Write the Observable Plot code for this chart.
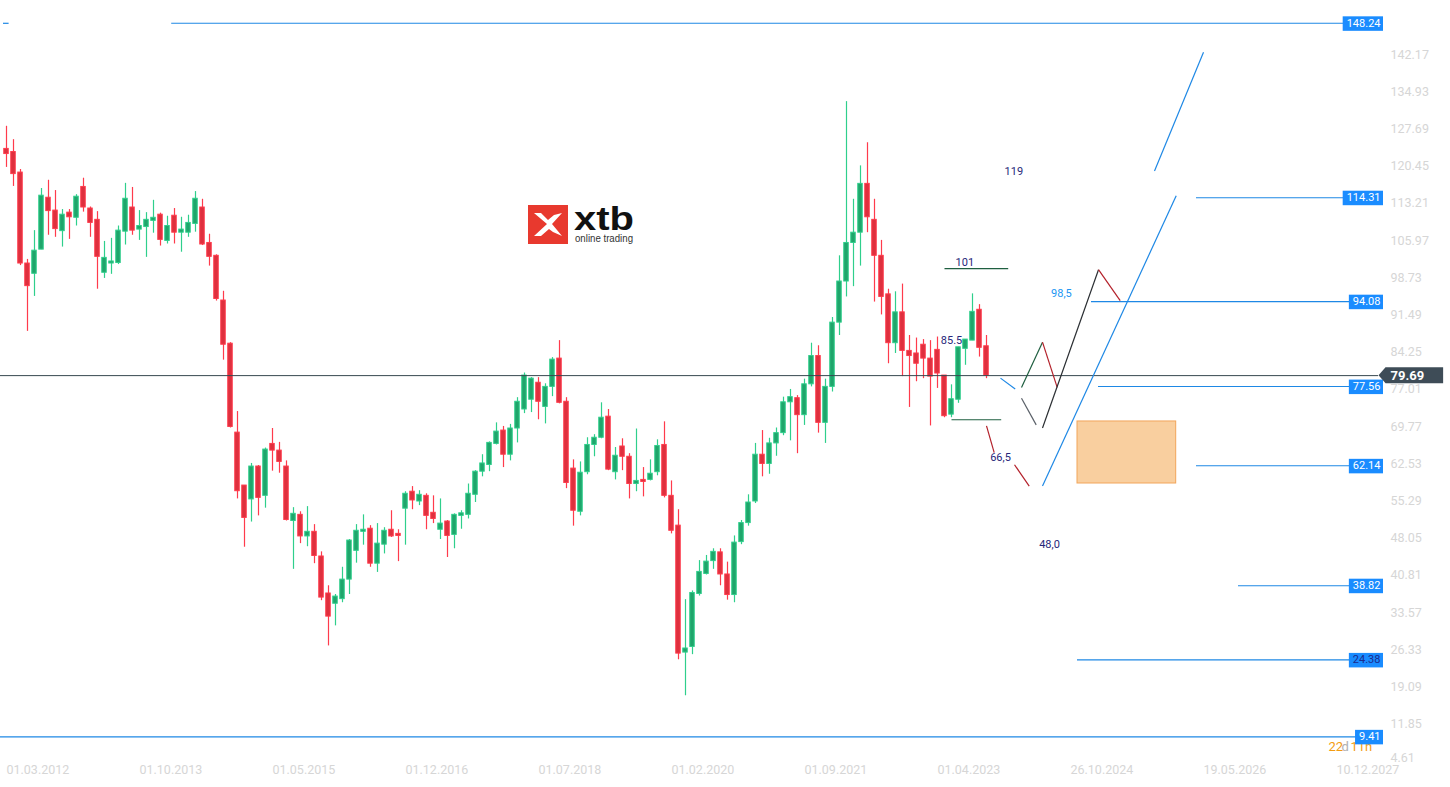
<!DOCTYPE html>
<html>
<head>
<meta charset="utf-8">
<script src="https://cdn.jsdelivr.net/npm/d3@7"></script>
<script src="https://cdn.jsdelivr.net/npm/@observablehq/plot@0.6"></script>
<style>
  html, body { margin: 0; padding: 0; background: #ffffff; }
  #wrap { position: relative; width: 1450px; height: 787px; overflow: hidden; }
  #logo { position: absolute; left: 0; top: 0; pointer-events: none; }
</style>
</head>
<body>
<div id="wrap">
  <div id="chart"></div>
  <svg id="logo" width="1450" height="787">
    <rect x="528" y="205" width="40" height="39" fill="#e8392e"></rect>
    <path d="M534,213 L547,224 L534,236 L541,236 L549,229 L553,232 L562,236 L557,230 L552,224 L562,213 L554,215 L548,220 L541,213 Z" fill="#ffffff"></path>
    <text x="574" y="230" font-family="Liberation Sans, Arial, sans-serif" font-weight="bold" font-size="33" textLength="60" lengthAdjust="spacingAndGlyphs" fill="#111">xtb</text>
    <text x="575" y="242" font-family="Liberation Sans, Arial, sans-serif" font-size="10" textLength="58" lengthAdjust="spacingAndGlyphs" fill="#333">online trading</text>
  </svg>
</div>
<script>
// ---- Monthly candles, Mar 2012 onward (month index 0 = 01.03.2012) ----
const candleOpen = [
 123.8,123.2,119.2,101.5,99.5,104.2,114.3,111.8,107.8,111.4,110.4,116.4,112.2,110.0,99.7,101.5,101.6,107.7,112.4,108.1,
 108.6,109.8,111.0,105.9,110.8,107.5,107.5,109.2,112.4,105.5,103.0,94.3,85.9,68.6,58.3,55.6,62.0,56.3,66.4,65.1,
 62.0,51.4,52.6,48.4,49.3,44.5,37.3,35.3,36.2,40.0,45.6,49.3,49.9,43.1,46.8,49.7,48.9,53.8,57.1,55.2,
 56.3,53.0,49.7,51.3,48.7,52.4,52.6,56.5,61.0,62.3,66.4,69.0,64.3,69.4,73.1,75.0,78.3,73.6,77.5,83.0,
 74.6,61.6,53.2,60.9,66.2,67.6,71.7,60.9,65.9,63.9,58.6,59.4,59.4,60.9,66.2,56.3,50.5,25.8,26.9,37.2,
 41.1,43.6,45.3,41.0,37.0,47.3,51.0,55.2,64.3,62.5,66.5,68.5,74.5,75.3,72.0,78.0,83.5,70.5,77.5,90.0,
 98.0,105.5,107.5,117.0,110.0,103.0,95.5,86.0,92.0,84.5,84.0,85.7,83.0,84.7,79.7,72.1,75.0,84.9,86.5,92.5,
 85.4
];
const candleHigh = [
 128.2,125.6,119.8,102.3,107.9,116.1,117.7,115.7,112.0,112.0,114.9,118.1,112.5,111.6,105.8,106.4,108.8,117.1,116.3,111.8,
 111.4,113.8,111.3,110.7,112.2,110.5,110.9,115.5,114.0,107.2,103.2,96.1,86.1,72.7,58.3,62.6,62.2,65.6,69.4,66.7,
 63.1,54.0,53.2,54.2,50.7,45.4,38.8,37.1,42.4,47.8,50.7,52.6,50.5,50.9,50.1,53.4,49.7,57.1,58.1,57.3,
 56.7,56.3,55.7,51.5,52.8,53.4,58.6,61.2,64.3,66.8,70.5,69.8,70.2,75.4,80.2,79.3,79.3,78.1,83.2,86.5,
 75.4,63.3,62.9,67.6,68.2,74.4,73.1,65.7,67.4,64.5,69.3,61.8,63.3,67.2,70.7,59.2,53.6,36.1,37.8,43.7,
 44.7,46.0,46.0,43.4,48.5,51.5,56.5,66.5,69.0,67.5,69.5,75.5,77.0,75.8,79.0,86.0,85.5,79.0,91.0,103.0,
 133.0,114.0,120.5,125.0,114.0,106.0,96.5,96.0,97.5,87.5,87.0,86.7,86.5,87.2,79.7,77.9,85.2,86.7,95.6,93.5,
 87.5
];
const candleLow = [
 120.2,116.5,101.1,88.3,95.1,104.2,107.0,106.6,104.7,106.2,108.8,111.5,106.6,96.5,98.6,99.4,101.3,105.1,107.0,106.0,
 102.7,107.4,104.9,105.3,105.3,103.7,106.6,107.6,105.0,101.0,94.2,82.7,69.5,55.7,46.3,51.2,52.4,53.9,61.1,60.7,
 51.4,42.0,47.0,46.4,43.1,35.9,27.1,31.0,35.5,37.1,43.2,46.7,42.4,41.4,45.0,48.2,43.5,46.7,53.6,54.4,
 49.7,50.9,47.8,44.3,46.0,49.8,51.8,55.0,60.0,61.0,66.2,61.8,63.1,66.6,72.3,72.5,71.1,70.3,75.6,74.2,
 57.7,50.4,52.4,60.4,63.9,67.4,61.2,59.4,61.2,55.7,57.1,56.1,59.2,60.2,55.9,48.9,24.4,17.4,25.4,36.8,
 40.9,42.0,38.8,36.0,35.5,46.8,50.4,54.8,60.0,60.5,64.0,68.0,67.0,64.5,70.0,77.5,68.5,66.5,76.5,87.5,
 95.0,97.0,101.0,107.5,94.0,91.5,82.0,84.0,79.5,73.5,78.5,79.1,69.9,77.2,71.5,71.5,74.3,81.7,86.5,83.3,
 79.1
];
const candleClose = [
 122.8,118.9,101.5,97.1,104.0,114.7,111.7,108.2,111.0,110.5,114.5,112.4,109.4,102.8,102.6,101.9,107.9,114.1,107.9,108.8,
 110.0,110.4,106.1,108.8,107.5,108.1,109.4,114.1,105.2,102.8,94.6,85.7,69.7,57.2,52.0,62.0,55.9,65.3,65.1,62.9,
 51.6,52.8,48.4,49.3,44.6,36.5,32.8,36.7,40.0,47.6,49.5,49.7,43.1,47.0,49.5,48.4,48.5,56.7,55.4,56.5,
 52.4,51.8,50.9,48.5,52.6,52.9,56.7,61.0,62.6,66.6,68.8,64.3,69.4,74.6,79.7,79.1,74.6,77.5,82.8,74.4,
 58.8,53.4,60.8,66.2,67.6,71.5,61.4,64.1,63.9,58.6,59.2,59.0,60.6,66.0,56.3,49.5,25.6,26.6,37.4,41.5,
 43.5,45.4,41.0,37.0,47.2,51.0,55.0,64.3,62.5,66.5,68.5,74.5,75.5,72.0,78.0,83.5,70.5,77.5,90.0,98.0,
 105.5,107.5,117.0,110.5,103.0,95.0,86.0,92.0,84.5,83.5,82.0,83.0,79.5,80.1,71.8,75.1,85.2,86.7,92.1,85.1,
 79.69
];

// ---- Axis tick labels (month index -> label) ----
const dateTickIndex = [0, 19, 38, 57, 76, 95, 114, 133, 152, 171, 190];
const dateTickLabel = ["01.03.2012","01.10.2013","01.05.2015","01.12.2016","01.07.2018","01.02.2020","01.09.2021","01.04.2023","26.10.2024","19.05.2026","10.12.2027"];
const priceTicks = [142.17,134.93,127.69,120.45,113.21,105.97,98.73,91.49,84.25,77.01,69.77,62.53,55.29,48.05,40.81,33.57,26.33,19.09,11.85];
const priceTickLast = [4.61];

// ---- Horizontal levels (blue) ----
const levelValue = [148.24, 114.31, 94.08, 77.56, 62.14, 38.82, 24.38, 9.41];
const levelFrom  = [23.6, 170, 155, 156, 170, 176, 153, -0.9];
const levelTo = 196.6;
const currentPrice = 79.69;

// ---- Drawn scenario lines: [x1, y1, x2, y2, kind] in (month index, price) ----
const scenarioSegments = [
  [-0.5, 148.24, 0.3, 148.24, "blue"],
  [134.0, 100.5, 143.1, 100.5, "green"],
  [135.0, 71.1, 142.1, 71.1, "green"],
  [140.0, 69.9, 141.1, 64.7, "red"],
  [144.0, 62.35, 146.1, 58.2, "red"],
  [142.0, 79.2, 144.1, 77.1, "blue"],
  [145.0, 75.3, 147.1, 70.1, "gray"],
  [145.0, 77.4, 148.0, 86.2, "green"],
  [148.0, 86.2, 150.1, 77.4, "red"],
  [148.0, 69.5, 156.0, 100.3, "dark"],
  [156.0, 100.3, 159.1, 94.3, "red"],
  [148.0, 58.2, 167.1, 114.7, "blue"],
  [164.0, 119.5, 171.0, 142.6, "blue"]
];
const scenarioColor = {blue: "#1e88e5", green: "#1f5f40", red: "#b3202a", gray: "#5a6068", dark: "#2b2f33"};

// ---- Target zone (orange box) ----
const zoneX = [153, 167.1];
const zoneY = [58.7, 70.77];

// ---- Text annotations ----
const noteText  = ["119", "101", "85.5", "66,5", "98,5", "48,0"];
const noteX     = [143.9, 136.9, 135.0, 142.0, 150.7, 149.0];
const noteY     = [119.4, 101.7, 86.5, 63.7, 95.6, 46.8];
const noteColor = ["#27277a", "#27277a", "#27277a", "#27277a", "#2196f3", "#27277a"];

// ---- build tables ----
const candles = candleOpen.map((o, i) => ({
  i, o, h: candleHigh[i], l: candleLow[i], c: candleClose[i], up: candleClose[i] >= o
}));
const levels = levelValue.map((v, k) => ({v, x1: levelFrom[k], x2: levelTo, label: v.toFixed(2)}));
const segs = scenarioSegments.map(([x1, y1, x2, y2, kind]) => ({x1, y1, x2, y2, kind}));
const notes = noteText.map((t, k) => ({t, x: noteX[k], y: noteY[k], color: noteColor[k]}));
const dateTicks = dateTickIndex.map((i, k) => ({i, label: dateTickLabel[k]}));

const GREEN_FILL = "#1fa56b", GREEN_LINE = "#2fcf8c";
const RED_FILL = "#de303e", RED_LINE = "#ff3b4c";
const halfBody = 0.32;

const chart = Plot.plot({
  width: 1450,
  height: 787,
  marginTop: 0, marginRight: 0, marginBottom: 0, marginLeft: 0,
  style: {background: "#ffffff", fontFamily: "Roboto, 'DejaVu Sans', sans-serif"},
  x: {type: "linear", domain: [0, 190], range: [6, 1336], axis: null},
  y: {type: "linear", domain: [4.61, 142.17], range: [761, 54], axis: null},
  marks: [
    // target zone
    Plot.rect([{}], {x1: () => zoneX[0], x2: () => zoneX[1], y1: () => zoneY[0], y2: () => zoneY[1],
      fill: "#f9cf9f", stroke: "#f2a55a", strokeWidth: 1}),
    // blue levels
    Plot.ruleY(levels, {y: "v", x1: "x1", x2: "x2", stroke: "#1e88e5", strokeWidth: 1.1}),
    // wicks
    Plot.ruleX(candles, {x: "i", y1: "l", y2: "h", stroke: d => d.up ? GREEN_LINE : RED_LINE, strokeWidth: 1.2}),
    // bodies
    Plot.rect(candles, {
      x1: d => d.i - halfBody, x2: d => d.i + halfBody,
      y1: d => Math.min(d.o, d.c), y2: d => Math.max(d.o, d.c),
      fill: d => d.up ? GREEN_FILL : RED_FILL,
      stroke: d => d.up ? GREEN_LINE : RED_LINE, strokeWidth: 1
    }),
    // current price line
    Plot.ruleY([currentPrice], {y: d => d, x1: -0.9, x2: 196, stroke: "#37474f", strokeWidth: 1}),
    // scenario lines
    Plot.link(segs, {x1: "x1", y1: "y1", x2: "x2", y2: "y2", stroke: d => scenarioColor[d.kind], strokeWidth: 1.2}),
    // notes
    Plot.text(notes, {x: "x", y: "y", text: "t", fill: "color", fontSize: 11, textAnchor: "middle"}),
    // date labels
    Plot.text(dateTicks, {x: "i", text: "label", frameAnchor: "bottom", dy: -18, textAnchor: "start",
      lineAnchor: "middle", fill: "#d6d6d6", fontSize: 12.5}),
    // price axis labels
    Plot.text(priceTicks, {y: d => d, text: d => d.toFixed(2), frameAnchor: "right", dx: -60,
      textAnchor: "start", lineAnchor: "middle", fill: "#d6d6d6", fontSize: 12.5}),
    Plot.text(priceTickLast, {y: d => d, text: d => d.toFixed(2), frameAnchor: "right", dx: -60, dy: -4,
      textAnchor: "start", lineAnchor: "middle", fill: "#d6d6d6", fontSize: 12.5}),
    // countdown text (partially under the 9.41 tag)
    Plot.text(["22"], {frameAnchor: "bottom-right", dx: -122, dy: -41, textAnchor: "start", lineAnchor: "middle", fill: "#f39c12", fontSize: 13}),
    Plot.text(["d"], {frameAnchor: "bottom-right", dx: -109, dy: -41, textAnchor: "start", lineAnchor: "middle", fill: "#b0b0b0", fontSize: 13}),
    Plot.text(["11h"], {frameAnchor: "bottom-right", dx: -100, dy: -41, textAnchor: "start", lineAnchor: "middle", fill: "#f39c12", fontSize: 13}),
    // level tags
    Plot.text(levels, {y: "v", text: "label", frameAnchor: "right", dx: -70, textAnchor: "end",
      lineAnchor: "middle", fill: d => d.v === 24.38 ? "#1c2a8c" : "#ffffff", fontSize: 11, letterSpacing: 0.4}),
    // current price tag
    Plot.text([currentPrice], {y: d => d, text: d => d.toFixed(2), frameAnchor: "right", dx: -60,
      textAnchor: "start", lineAnchor: "middle", fill: "#ffffff", fontSize: 13, fontWeight: "bold"})
  ]
});

document.getElementById("chart").append(chart);

// background tags behind level labels and current price label
const NS = "http://www.w3.org/2000/svg";
const levelLabels = new Set(levelValue.map(v => v.toFixed(2)));
const priceLabel = currentPrice.toFixed(2);
chart.querySelectorAll("text").forEach(t => {
  const s = t.textContent;
  const isLevel = levelLabels.has(s) && t.getAttribute("font-size") !== "12.5" && (t.parentNode.getAttribute("font-size") === "11" || t.getAttribute("font-size") === "11");
  const isPrice = s === priceLabel && (t.parentNode.getAttribute("font-weight") === "bold" || t.getAttribute("font-weight") === "bold");
  if (!isLevel && !isPrice) return;
  const b = t.getBBox();
  const tr = t.getAttribute("transform");
  if (isLevel) {
    const r = document.createElementNS(NS, "rect");
    r.setAttribute("x", b.x - 4);
    r.setAttribute("y", b.y - 0.5);
    r.setAttribute("width", b.width + 6.5);
    r.setAttribute("height", b.height + 1.5);
    r.setAttribute("fill", "#1a8cff");
    if (tr) r.setAttribute("transform", tr);
    t.parentNode.insertBefore(r, t);
  } else {
    const p = document.createElementNS(NS, "path");
    const x0 = b.x - 12, xl = b.x - 5, xr = b.x + b.width + 19;
    const yt = b.y - 0.5, yb = b.y + b.height + 0.5, ym = (yt + yb) / 2;
    p.setAttribute("d", `M${x0},${ym}L${xl},${yt}H${xr}V${yb}H${xl}Z`);
    p.setAttribute("fill", "#3e4c57");
    if (tr) p.setAttribute("transform", tr);
    t.parentNode.insertBefore(p, t);
  }
});
</script>
</body>
</html>
